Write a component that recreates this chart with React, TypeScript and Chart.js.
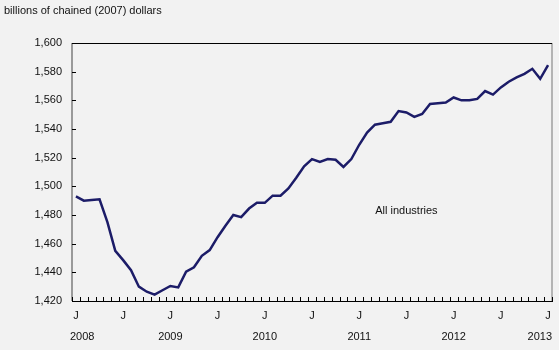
import React, { useEffect, useRef } from "react";
import { Chart, registerables } from "chart.js";

Chart.register(...registerables);

const months = [
  "Jul 2008", "Aug 2008", "Sep 2008", "Oct 2008", "Nov 2008", "Dec 2008",
  "Jan 2009", "Feb 2009", "Mar 2009", "Apr 2009", "May 2009", "Jun 2009",
  "Jul 2009", "Aug 2009", "Sep 2009", "Oct 2009", "Nov 2009", "Dec 2009",
  "Jan 2010", "Feb 2010", "Mar 2010", "Apr 2010", "May 2010", "Jun 2010",
  "Jul 2010", "Aug 2010", "Sep 2010", "Oct 2010", "Nov 2010", "Dec 2010",
  "Jan 2011", "Feb 2011", "Mar 2011", "Apr 2011", "May 2011", "Jun 2011",
  "Jul 2011", "Aug 2011", "Sep 2011", "Oct 2011", "Nov 2011", "Dec 2011",
  "Jan 2012", "Feb 2012", "Mar 2012", "Apr 2012", "May 2012", "Jun 2012",
  "Jul 2012", "Aug 2012", "Sep 2012", "Oct 2012", "Nov 2012", "Dec 2012",
  "Jan 2013", "Feb 2013", "Mar 2013", "Apr 2013", "May 2013", "Jun 2013",
  "Jul 2013",
];

const allIndustries = [
  1493, 1490, 1490.5, 1491, 1475, 1455,
  1448.5, 1441.5, 1430, 1426.5, 1424.5, 1427.5,
  1430.5, 1429.5, 1440.5, 1443.5, 1451.5, 1455.5,
  1464.5, 1472.5, 1480, 1478.5, 1484.5, 1488.5,
  1488.5, 1493.5, 1493.5, 1498.5, 1506, 1514,
  1519, 1517, 1519, 1518.5, 1513.5, 1519,
  1529, 1537.5, 1543, 1544, 1545, 1552.5,
  1551.5, 1548.5, 1550.5, 1557.5, 1558, 1558.5,
  1562, 1560, 1560, 1561, 1566.5, 1564,
  1569, 1573, 1576, 1578.5, 1582, 1575,
  1584.5,
];

const years = ["2008", "2009", "2010", "2011", "2012", "2013"];
const yMin = 1420;
const yMax = 1600;
const yStep = 20;
const unitTitle = "billions of chained (2007) dollars";
const seriesName = "All industries";
const seriesLabelAt = { index: 42, value: 1483 };

const FONT = "11px 'Liberation Sans', Arial, sans-serif";

const framePlugin = {
  id: "frame",
  beforeDraw(chart: any) {
    const { ctx, width, height } = chart;
    ctx.save();
    ctx.fillStyle = "#f2f2f2";
    ctx.fillRect(0, 0, width, height);
    ctx.restore();
  },
  afterDraw(chart: any) {
    const { ctx, chartArea } = chart;
    const { left, right, top, bottom } = chartArea;
    const xs = chart.scales.x;
    const ys = chart.scales.y;
    ctx.save();
    // frame
    ctx.lineWidth = 2;
    ctx.strokeStyle = "#9a9a9a";
    ctx.beginPath();
    ctx.moveTo(left, top);
    ctx.lineTo(left, bottom);
    ctx.stroke();
    ctx.strokeStyle = "#b4b4b4";
    ctx.beginPath();
    ctx.moveTo(right, top);
    ctx.lineTo(right, bottom);
    ctx.stroke();
    ctx.lineWidth = 1;
    ctx.strokeStyle = "#000";
    ctx.beginPath();
    ctx.moveTo(left, Math.round(top) + 0.5);
    ctx.lineTo(right, Math.round(top) + 0.5);
    ctx.moveTo(left, Math.round(bottom) + 0.5);
    ctx.lineTo(right + 1, Math.round(bottom) + 0.5);
    ctx.stroke();
    // y ticks (inward)
    ctx.beginPath();
    for (let v = yMin + yStep; v < yMax; v += yStep) {
      const y = Math.round(ys.getPixelForValue(v)) + 0.5;
      ctx.moveTo(left, y);
      ctx.lineTo(left + 4, y);
    }
    // x ticks (inward) at month boundaries
    const step = xs.getPixelForValue(1) - xs.getPixelForValue(0);
    for (let i = 0; i <= months.length; i++) {
      const x = Math.round(xs.getPixelForValue(i) - step / 2) + 0.5;
      ctx.moveTo(x, Math.round(bottom));
      ctx.lineTo(x, Math.round(bottom) - 4);
    }
    ctx.stroke();
    // texts
    ctx.fillStyle = "#111";
    ctx.font = FONT;
    ctx.textBaseline = "middle";
    ctx.textAlign = "left";
    ctx.fillText(unitTitle, 4, 11);
    ctx.textAlign = "center";
    ctx.fillText(
      seriesName,
      xs.getPixelForValue(seriesLabelAt.index),
      ys.getPixelForValue(seriesLabelAt.value)
    );
    // year labels under the July of each year
    years.forEach((yr) => {
      const idx = months.indexOf("Jul " + yr);
      if (idx < 0) return;
      const w = ctx.measureText(yr).width;
      let x = xs.getPixelForValue(idx);
      x = Math.max(x, left - 2 + w / 2);
      x = Math.min(x, right - w / 2);
      ctx.fillText(yr, x, 337);
    });
    ctx.restore();
  },
};

export default function App() {
  const ref = useRef<HTMLCanvasElement>(null);
  useEffect(() => {
    document.body.style.margin = "0";
    const chart = new Chart(ref.current!, {
      type: "line",
      data: {
        labels: months,
        datasets: [
          {
            label: seriesName,
            data: allIndustries,
            borderColor: "#1c1c68",
            borderWidth: 2.5,
            pointRadius: 0,
            tension: 0,
            fill: false,
          },
        ],
      },
      options: {
        animation: false,
        responsive: false,
        devicePixelRatio: 1,
        layout: { padding: { top: 43, right: 7, left: 0, bottom: 0 } },
        plugins: { legend: { display: false }, tooltip: { enabled: false } },
        scales: {
          x: {
            offset: true,
            grid: { display: false, drawTicks: false },
            border: { display: false },
            afterFit: (s: any) => {
              s.height = 49;
            },
            ticks: {
              autoSkip: false,
              maxRotation: 0,
              padding: 8,
              color: "#111",
              font: { family: "'Liberation Sans', Arial, sans-serif", size: 11 },
              callback: function (this: any, value: any) {
                const lab = this.getLabelForValue(value) as string;
                return lab.startsWith("Jan") || lab.startsWith("Jul") ? "J" : "";
              },
            },
          },
          y: {
            min: yMin,
            max: yMax,
            grid: { display: false, drawTicks: false },
            border: { display: false },
            afterFit: (s: any) => {
              s.width = 72;
            },
            ticks: {
              stepSize: yStep,
              padding: 10,
              color: "#111",
              font: { family: "'Liberation Sans', Arial, sans-serif", size: 11 },
              callback: (v: any) => Number(v).toLocaleString("en-US"),
            },
          },
        },
      },
      plugins: [framePlugin],
    });
    return () => chart.destroy();
  }, []);
  return <canvas ref={ref} width={559} height={350} style={{ display: "block" }} />;
}
